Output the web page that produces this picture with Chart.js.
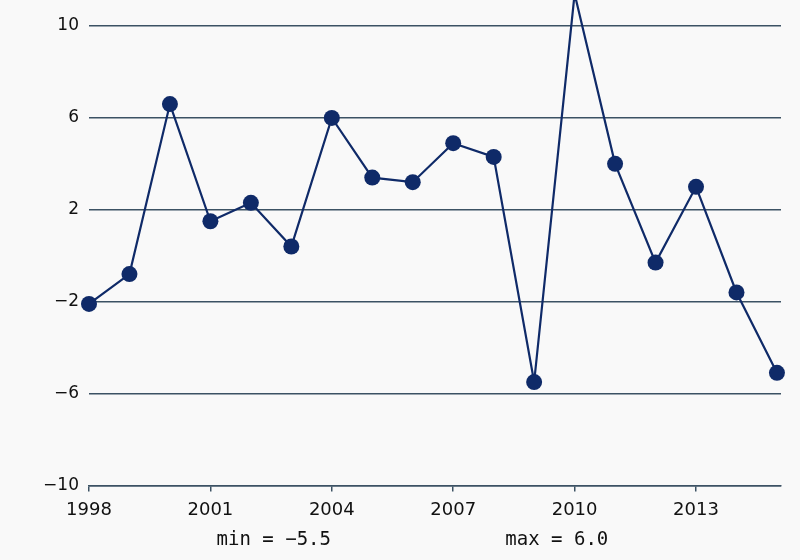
<!DOCTYPE html>
<html>
<head>
<meta charset="utf-8">
<script src="https://cdn.jsdelivr.net/npm/chart.js@4/dist/chart.umd.min.js"></script>
<style>
  html, body { margin: 0; padding: 0; background: #f9f9f9; }
  #wrap { width: 800px; height: 560px; }
</style>
</head>
<body>
<div id="wrap"><canvas id="chart" width="800" height="560"></canvas></div>
<script>
// valores
const years = [1998, 1999, 2000, 2001, 2002, 2003, 2004, 2005, 2006,
               2007, 2008, 2009, 2010, 2011, 2012, 2013, 2014, 2015];
const values = [-2.1, -0.8, 6.6, 1.5, 2.3, 0.4, 6.0, 3.4, 3.2,
                4.9, 4.3, -5.5, 11.4, 4.0, -0.3, 3.0, -1.6, -5.1];
const xTicks = [1998, 2001, 2004, 2007, 2010, 2013];
const yTicks = [-10, -6, -2, 2, 6, 10];
const minLabel = "min = \u22125.5";
const maxLabel = "max = 6.0";

const navy = "#0f2a68";
const gridColor = "#3c5264";

// texto min / max embaixo do eixo
const footerText = {
  id: "footerText",
  afterDraw(chart) {
    const ctx = chart.ctx;
    const area = chart.chartArea;
    const w = area.right - area.left;
    ctx.save();
    ctx.font = "19px 'DejaVu Sans Mono'";
    ctx.fillStyle = "#111";
    ctx.textAlign = "center";
    ctx.textBaseline = "middle";
    ctx.fillText(minLabel, area.left + w * 0.267, area.bottom + 55);
    ctx.fillText(maxLabel, area.left + w * 0.676, area.bottom + 55);
    ctx.restore();
  }
};

const points = years.map((y, i) => ({ x: y, y: values[i] }));

new Chart(document.getElementById("chart"), {
  type: "line",
  data: {
    datasets: [{
      data: points,
      borderColor: navy,
      borderWidth: 2.2,
      backgroundColor: navy,
      pointBackgroundColor: navy,
      pointBorderColor: navy,
      pointRadius: 8,
      pointBorderWidth: 0,
      tension: 0,
      clip: false
    }]
  },
  options: {
    responsive: false,
    animation: false,
    layout: { padding: { top: 26, right: 19, bottom: 31, left: 0 } },
    plugins: {
      legend: { display: false },
      tooltip: { enabled: false }
    },
    scales: {
      x: {
        type: "linear",
        min: 1998,
        max: 2015.1,
        afterBuildTicks: (scale) => { scale.ticks = xTicks.map(v => ({ value: v })); },
        grid: { drawOnChartArea: false, drawTicks: true, tickLength: 6, color: gridColor, lineWidth: 1.5 },
        border: { display: true, color: gridColor, width: 1.5 },
        ticks: {
          color: "#111",
          font: { family: "DejaVu Sans", size: 18 },
          padding: 8,
          maxRotation: 0,
          callback: (v) => String(v)
        }
      },
      y: {
        min: -10,
        max: 10,
        afterBuildTicks: (scale) => { scale.ticks = yTicks.map(v => ({ value: v })); },
        afterFit: (scale) => { scale.width = 89; },
        grid: { drawTicks: false, color: gridColor, lineWidth: 1.5 },
        border: { display: false },
        ticks: {
          color: "#111",
          font: { family: "DejaVu Sans", size: 17 },
          padding: 10,
          callback: (v) => String(v).replace("-", "\u2212")
        }
      }
    }
  },
  plugins: [footerText]
});
</script>
</body>
</html>
